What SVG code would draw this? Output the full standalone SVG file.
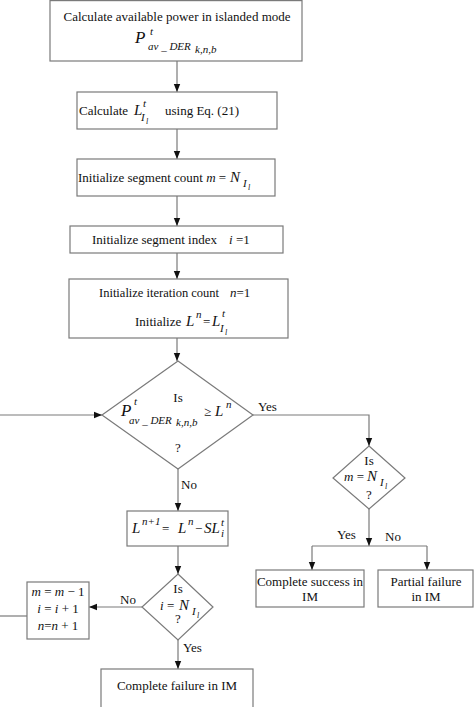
<svg xmlns="http://www.w3.org/2000/svg" width="474" height="707" viewBox="0 0 474 707">
<defs>
<marker id="ah" viewBox="0 0 10 10" refX="10" refY="5" markerWidth="8" markerHeight="8" markerUnits="userSpaceOnUse" orient="auto">
<path d="M0,1 L10,5 L0,9 z" fill="#111"/>
</marker>
<style>
.b{fill:#fff;stroke:#7a7a7a;stroke-width:1.2}
.c{fill:none;stroke:#7a7a7a;stroke-width:1.2}
text{font-family:"Liberation Serif","Times New Roman",serif;font-size:13px;fill:#111}
.m{text-anchor:middle}
.i{font-style:italic}
.big{font-size:17px}
.md{font-size:15px}
.s{font-size:11px}
.xs{font-size:8px}
</style>
</defs>
<rect width="474" height="707" fill="#fff"/>
<g id="connectors">
<path class="c" d="M177,61 V92" marker-end="url(#ah)"/>
<path class="c" d="M177,129 V159" marker-end="url(#ah)"/>
<path class="c" d="M177,196 V226" marker-end="url(#ah)"/>
<path class="c" d="M177,253 V279" marker-end="url(#ah)"/>
<path class="c" d="M177,338 V361" marker-end="url(#ah)"/>
<path class="c" d="M0,415 H102" marker-end="url(#ah)"/>
<path class="c" d="M253,415 H369 V446" marker-end="url(#ah)"/>
<path class="c" d="M369,509 V546" marker-end="url(#ah)"/>
<path class="c" d="M312,546 H427"/>
<path class="c" d="M312,546 V570" marker-end="url(#ah)"/>
<path class="c" d="M427,546 V570" marker-end="url(#ah)"/>
<path class="c" d="M178,469 V511" marker-end="url(#ah)"/>
<path class="c" d="M178,546 V574" marker-end="url(#ah)"/>
<path class="c" d="M142,607 H89" marker-end="url(#ah)"/>
<path class="c" d="M27,616 H0"/>
<path class="c" d="M178,640 V669" marker-end="url(#ah)"/>
<text x="258" y="411">Yes</text>
<text x="181" y="489">No</text>
<text x="120" y="604">No</text>
<text x="183" y="652">Yes</text>
<text x="337" y="539">Yes</text>
<text x="385" y="541">No</text>
</g>
<g id="n1">
<rect class="b" x="50" y="0.6" width="252" height="60.4"/>
<text class="m" x="177" y="21">Calculate available power in islanded mode</text>
<text x="135" y="43" class="i big">P</text>
<text x="150" y="35" class="i s">t</text>
<text x="148" y="50" class="i s">av _ DER</text>
<text x="195" y="53" class="i s">k,n,b</text>
</g>
<g id="n2">
<rect class="b" x="77" y="92" width="200" height="37"/>
<text x="79" y="115">Calculate</text>
<text x="134" y="115" class="i md">L</text>
<text x="143" y="107" class="i s">t</text>
<text x="141" y="121" class="i s">I</text>
<text x="146" y="124" class="i xs">l</text>
<text x="165" y="115">using Eq. (21)</text>
</g>
<g id="n3">
<rect class="b" x="77" y="159" width="198" height="37"/>
<text x="78" y="182">Initialize segment count <tspan class="i">m</tspan> =</text>
<text x="230" y="182" class="i md">N</text>
<text x="243" y="187" class="i s">I</text>
<text x="248" y="190" class="i xs">l</text>
</g>
<g id="n4">
<rect class="b" x="70" y="226" width="213" height="27"/>
<text x="92" y="244">Initialize segment index</text>
<text x="229" y="244"><tspan class="i">i</tspan> =1</text>
</g>
<g id="n5">
<rect class="b" x="69" y="279" width="219" height="59"/>
<text x="99" y="297" style="font-size:12.5px">Initialize iteration count</text>
<text x="230" y="297"><tspan class="i">n</tspan>=1</text>
<text x="135" y="326">Initialize</text>
<text x="186" y="326" class="i md">L</text>
<text x="196" y="318" class="i s">n</text>
<text x="203" y="326">=</text>
<text x="212" y="326" class="i md">L</text>
<text x="222" y="317" class="i s">t</text>
<text x="220" y="332" class="i s">I</text>
<text x="225" y="335" class="i xs">l</text>
</g>
<g id="d1">
<path class="b" d="M178,361 L253,415 L178,469 L102,415 Z"/>
<text class="m" x="178" y="402">Is</text>
<text x="121" y="416" class="i big">P</text>
<text x="134" y="405" class="i s">t</text>
<text x="129" y="424" class="i s">av _ DER</text>
<text x="176" y="426" class="i s">k,n,b</text>
<text x="204" y="416">≥</text>
<text x="215" y="416" class="i md">L</text>
<text x="226" y="408" class="i s">n</text>
<text class="m" x="178" y="452">?</text>
</g>
<g id="d2">
<path class="b" d="M369,446 L405,478 L369,509 L333,478 Z"/>
<text class="m" x="369" y="465">Is</text>
<text x="344" y="481"><tspan class="i">m</tspan> =</text>
<text x="367" y="481" class="i md">N</text>
<text x="380" y="486" class="i s">I</text>
<text x="385" y="489" class="i xs">l</text>
<text class="m" x="369" y="499">?</text>
</g>
<g id="n6">
<rect class="b" x="127" y="511" width="101" height="35"/>
<text x="132" y="533" class="i md">L</text>
<text x="142" y="525" class="i s">n+1</text>
<text x="162" y="533">=</text>
<text x="178" y="533" class="i md">L</text>
<text x="188" y="525" class="i s">n</text>
<text x="195" y="533">−</text>
<text x="204" y="533" class="i md">SL</text>
<text x="221" y="526" class="i s">t</text>
<text x="221" y="537" class="i s">i</text>
</g>
<g id="d3">
<path class="b" d="M178,574 L213,607 L178,640 L142,607 Z"/>
<text class="m" x="178" y="593">Is</text>
<text x="160" y="610"><tspan class="i">i</tspan> =</text>
<text x="179" y="610" class="i md">N</text>
<text x="192" y="615" class="i s">I</text>
<text x="197" y="618" class="i xs">l</text>
<text class="m" x="178" y="623">?</text>
</g>
<g id="n7">
<rect class="b" x="27" y="582" width="62" height="57"/>
<text class="m" x="58" y="596"><tspan class="i">m</tspan> = <tspan class="i">m</tspan> − 1</text>
<text class="m" x="58" y="613"><tspan class="i">i</tspan> = <tspan class="i">i</tspan> + 1</text>
<text class="m" x="58" y="630"><tspan class="i">n</tspan>=<tspan class="i">n</tspan> + 1</text>
</g>
<g id="n8">
<rect class="b" x="101" y="669" width="152" height="40"/>
<text class="m" x="177" y="690">Complete failure in IM</text>
</g>
<g id="n9">
<rect class="b" x="256" y="570" width="108" height="37"/>
<text class="m" x="310" y="586">Complete success in</text>
<text class="m" x="310" y="601">IM</text>
</g>
<g id="n10">
<rect class="b" x="378" y="570" width="95" height="37"/>
<text class="m" x="426" y="586">Partial failure</text>
<text class="m" x="426" y="601">in IM</text>
</g>
</svg>
